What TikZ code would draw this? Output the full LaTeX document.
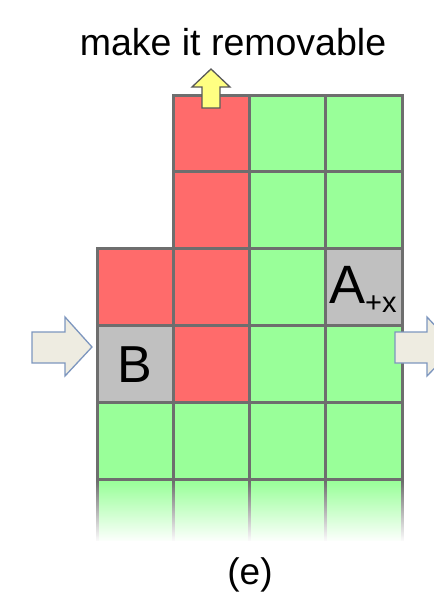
\documentclass[tikz,border=0pt]{standalone}
\usepackage{fontspec}
\setmainfont{Liberation Sans}
\usetikzlibrary{fadings}
\definecolor{cellred}{RGB}{255,107,107}
\definecolor{cellgreen}{RGB}{153,255,153}
\definecolor{cellgray}{RGB}{192,192,192}
\definecolor{gridline}{RGB}{110,110,110}
\definecolor{pushfill}{RGB}{238,236,225}
\definecolor{pushedge}{RGB}{125,150,190}
\definecolor{liftfill}{RGB}{255,255,130}
\tikzfading[name=fadewhite,top color=transparent!100,middle color=transparent!45,bottom color=transparent!0]
\begin{document}
\begin{tikzpicture}[x=1pt,y=-1pt,
		cell/.style={draw=gridline,line width=3pt},
		push/.style={fill=pushfill,draw=pushedge,line width=1.3pt},
		lift/.style={fill=liftfill,draw=gray!70!black,line width=1.3pt}]
		\useasboundingbox (0,0) rectangle (434,606);
		\clip (0,0) rectangle (434,606);
		\fill[cellgreen] (97,479) rectangle (402,560);
		\foreach \x in {97,173.25,249.5,325.75,402}
			\draw[draw=gridline,line width=3pt] (\x,479)--(\x,560);
		\fill[white,path fading=fadewhite] (90,481) rectangle (410,542);
		\fill[white] (90,541) rectangle (410,562);
		\foreach \c/\r/\col in {1/0/cellred,2/0/cellgreen,3/0/cellgreen,
				1/1/cellred,2/1/cellgreen,3/1/cellgreen,
				0/2/cellred,1/2/cellred,2/2/cellgreen,3/2/cellgray,
				0/3/cellgray,1/3/cellred,2/3/cellgreen,3/3/cellgreen,
				0/4/cellgreen,1/4/cellgreen,2/4/cellgreen,3/4/cellgreen}
			\draw[cell,fill=\col,shift={(97+76.25*\c,95+76.8*\r)}] (0,0) rectangle (76.25,76.8);
		\node[anchor=base,font=\fontsize{52}{56}\selectfont] (blockb) at (135.1,382) {B};
		\node[anchor=base west,inner sep=0pt,font=\fontsize{54}{58}\selectfont] (blocka) at (329,303)
			{A\raisebox{-9pt}{\fontsize{29}{30}\selectfont+x}};
		\draw[push] (32,332)--(65,332)--(65,317)--(92,347)--(65,376)--(65,363)--(32,363)--cycle;
		\draw[push] (395,332)--(427,332)--(427,317)--(455,347)--(427,376)--(427,363)--(395,363)--cycle;
		\draw[lift] (202,108)--(202,87)--(192,87)--(211,69)--(230,87)--(220,87)--(220,108)--cycle;
		\node[anchor=base,font=\fontsize{37.5}{40}\selectfont] (removable) at (233,55) {make it removable};
		\node[anchor=base,font=\fontsize{37}{40}\selectfont] (caption) at (250,584) {(e)};
	\end{tikzpicture}
\end{document}
